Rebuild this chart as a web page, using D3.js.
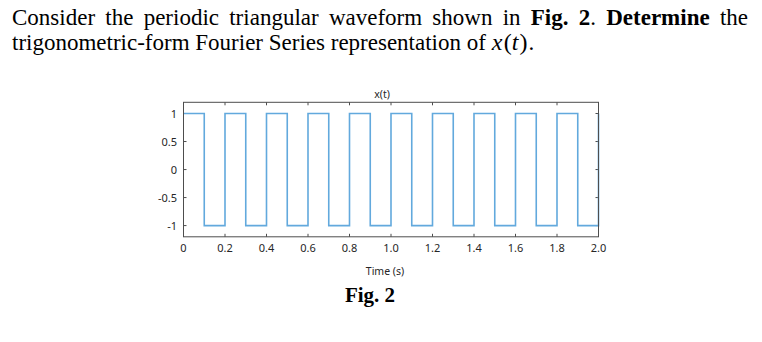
<!DOCTYPE html>
<html>
<head>
<meta charset="utf-8">
<script src="https://cdn.jsdelivr.net/npm/d3@7"></script>
<style>
  body { margin: 0; background: #fff; }
  svg { display: block; }
</style>
</head>
<body>
<svg id="fig" width="762" height="342"></svg>
<script>
// Square wave transitions (s) and level held after each one
const times = [0, 0.1, 0.2, 0.3, 0.4, 0.5, 0.6, 0.7, 0.8, 0.9, 1.0,
  1.1, 1.2, 1.3, 1.4, 1.5, 1.6, 1.7, 1.8, 1.9, 2.0];
const levels = [1, -1, 1, -1, 1, -1, 1, -1, 1, -1, 1,
  -1, 1, -1, 1, -1, 1, -1, 1, -1, 1];
const xTicks = [0, 0.2, 0.4, 0.6, 0.8, 1.0, 1.2, 1.4, 1.6, 1.8, 2.0];
const yTicks = [-1, -0.5, 0, 0.5, 1];

// Question text, line 1 is justified word by word
const line1 = [
  [["Consider", false]], [["the", false]], [["periodic", false]],
  [["triangular", false]], [["waveform", false]], [["shown", false]],
  [["in", false]], [["Fig.", true]], [["2", true], [".", false]],
  [["Determine", true]], [["the", false]]
];

const svg = d3.select("#fig");
const serif = "'Liberation Serif', 'Times New Roman', serif";
const sans = "'Noto Sans', 'Open Sans', sans-serif";

// first line, justified between left and right margins
const left = 12, right = 748, fontPx = 23;
const words = line1.map((pieces) => {
  const t = svg.append("text")
    .attr("y", 25)
    .style("font-family", serif)
    .style("font-size", fontPx + "px");
  pieces.forEach(([s, bold]) => {
    t.append("tspan").text(s).style("font-weight", bold ? "bold" : "normal");
  });
  return t;
});
const widths = words.map((t) => t.node().getComputedTextLength());
const gap = (right - left - d3.sum(widths)) / (words.length - 1);
let cursor = left;
words.forEach((t, i) => {
  t.attr("x", cursor);
  cursor += widths[i] + gap;
});

// second line
const l2 = svg.append("text")
  .attr("x", left)
  .attr("y", 50)
  .style("font-family", serif)
  .style("font-size", fontPx + "px");
l2.append("tspan").text("trigonometric-form Fourier Series representation of ");
l2.append("tspan").text("x").style("font-style", "italic").style("font-size", "24px");
l2.append("tspan").text("(").attr("dx", 1.5).style("font-size", "24px");
l2.append("tspan").text("t").style("font-style", "italic").style("font-size", "24px");
l2.append("tspan").text(")").attr("dx", 1).style("font-size", "24px");
l2.append("tspan").text(".").attr("dx", 1);

// plot area
const x = d3.scaleLinear().domain([0, 2]).range([183.5, 598.5]);
const y = d3.scaleLinear().domain([-1.2, 1.2]).range([236.8, 102.3]);
const boxColor = "#4d4d4d";

const fmtX = (d) => (d === 0 ? "0" : d.toFixed(1));
const fmtY = (d) => String(d);

const tickLen = 3;
const g = svg.append("g");

// x ticks top and bottom (inward)
g.selectAll(".xtb").data(xTicks).enter().append("line")
  .attr("x1", (d) => x(d)).attr("x2", (d) => x(d))
  .attr("y1", y.range()[0]).attr("y2", y.range()[0] - tickLen)
  .attr("stroke", boxColor);
g.selectAll(".xtt").data(xTicks).enter().append("line")
  .attr("x1", (d) => x(d)).attr("x2", (d) => x(d))
  .attr("y1", y.range()[1]).attr("y2", y.range()[1] + tickLen)
  .attr("stroke", boxColor);
// y ticks left and right
g.selectAll(".ytl").data(yTicks).enter().append("line")
  .attr("x1", x.range()[0]).attr("x2", x.range()[0] + tickLen)
  .attr("y1", (d) => y(d)).attr("y2", (d) => y(d))
  .attr("stroke", boxColor);
g.selectAll(".ytr").data(yTicks).enter().append("line")
  .attr("x1", x.range()[1]).attr("x2", x.range()[1] - tickLen)
  .attr("y1", (d) => y(d)).attr("y2", (d) => y(d))
  .attr("stroke", boxColor);

// tick labels
g.selectAll(".xl").data(xTicks).enter().append("text")
  .attr("x", (d) => x(d))
  .attr("y", 252)
  .attr("text-anchor", "middle")
  .style("font-family", sans)
  .style("font-size", "11px")
  .attr("fill", "#262626")
  .text(fmtX);
g.selectAll(".yl").data(yTicks).enter().append("text")
  .attr("x", 177)
  .attr("y", (d) => y(d) + 4)
  .attr("text-anchor", "end")
  .style("font-family", sans)
  .style("font-size", "11px")
  .attr("fill", "#262626")
  .text(fmtY);

// waveform
const pts = times.map((t, i) => [t, levels[i]]);
g.append("path")
  .datum(pts)
  .attr("fill", "none")
  .attr("stroke", "#62a9dd")
  .attr("stroke-width", 1.6)
  .attr("d", d3.line().x((d) => x(d[0])).y((d) => y(d[1])).curve(d3.curveStepAfter));

// box
g.append("rect")
  .attr("x", x.range()[0]).attr("y", y.range()[1])
  .attr("width", x.range()[1] - x.range()[0])
  .attr("height", y.range()[0] - y.range()[1])
  .attr("fill", "none")
  .attr("stroke", boxColor);

// titles
g.append("text")
  .attr("x", 382).attr("y", 98)
  .attr("text-anchor", "middle")
  .style("font-family", sans).style("font-size", "10.5px")
  .attr("fill", "#262626")
  .text("x(t)");
g.append("text")
  .attr("x", 385).attr("y", 275)
  .attr("text-anchor", "middle")
  .style("font-family", sans).style("font-size", "10.5px")
  .attr("fill", "#262626")
  .text("Time (s)");
svg.append("text")
  .attr("x", 370).attr("y", 302)
  .attr("text-anchor", "middle")
  .style("font-family", serif).style("font-size", "21px")
  .style("font-weight", "bold")
  .text("Fig. 2");
</script>
</body>
</html>
